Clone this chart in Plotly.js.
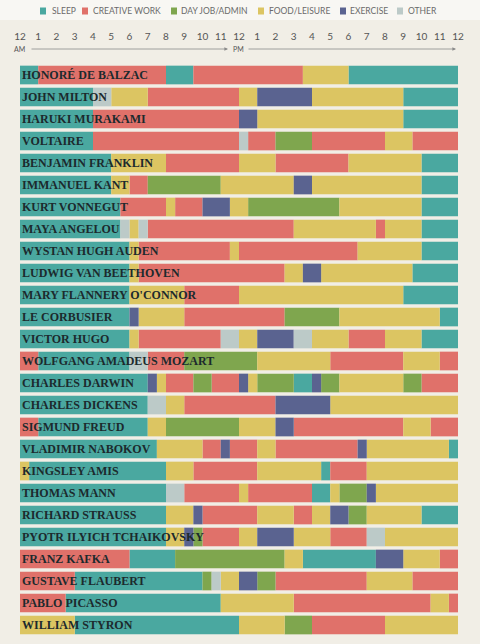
<!DOCTYPE html>
<html>
<head>
<meta charset="utf-8">
<script src="https://cdn.plot.ly/plotly-3.0.1.min.js"></script>
<style>
  html, body { margin: 0; padding: 0; background: #f1eee6; }
  #chart { width: 480px; height: 644px; }
</style>
</head>
<body>
<div id="chart"></div>
<script>
// ---- DATA ----
// Activity codes: S sleep, C creative work, D day job/admin, F food/leisure, E exercise, O other
// Each routine: activity code followed by the hour at which that activity ends.
const activityCodes = ["S", "C", "D", "F", "E", "O"];
const activityNames = ["SLEEP", "CREATIVE WORK", "DAY JOB/ADMIN", "FOOD/LEISURE", "EXERCISE", "OTHER"];

const people = [
  "HONORÉ DE BALZAC", "JOHN MILTON", "HARUKI MURAKAMI", "VOLTAIRE", "BENJAMIN FRANKLIN",
  "IMMANUEL KANT", "KURT VONNEGUT", "MAYA ANGELOU", "WYSTAN HUGH AUDEN", "LUDWIG VAN BEETHOVEN",
  "MARY FLANNERY O'CONNOR", "LE CORBUSIER", "VICTOR HUGO", "WOLFGANG AMADEUS MOZART", "CHARLES DARWIN",
  "CHARLES DICKENS", "SIGMUND FREUD", "VLADIMIR NABOKOV", "KINGSLEY AMIS", "THOMAS MANN",
  "RICHARD STRAUSS", "PYOTR ILYICH TCHAIKOVSKY", "FRANZ KAFKA", "GUSTAVE FLAUBERT", "PABLO PICASSO",
  "WILLIAM STYRON"
];

const balzac      = ["S",1,"C",8,"S",9.5,"C",15.5,"F",18,"S",24];
const milton      = ["S",4,"O",5,"F",7,"C",12,"F",13,"E",16,"F",21,"S",24];
const murakami    = ["S",4,"C",12,"E",13,"F",21,"S",24];
const voltaire    = ["S",4,"C",12,"O",12.5,"C",14,"D",16,"C",20,"F",21.5,"C",24];
const franklin    = ["S",5,"F",8,"C",12,"F",14,"C",18,"F",22,"S",24];
const kant        = ["S",5,"F",6,"C",7,"D",11,"F",15,"E",16,"F",22,"S",24];
const vonnegut    = ["S",5.5,"C",8,"F",8.5,"C",10,"E",11.5,"F",12.5,"D",17.5,"F",22,"S",24];
const angelou     = ["S",5.5,"O",6,"F",6.5,"O",7,"C",15,"F",19.5,"C",20,"F",22,"S",24];
const auden       = ["S",6,"F",6.5,"C",11.5,"F",12,"C",18.5,"F",22,"S",24];
const beethoven   = ["S",6,"F",6.5,"C",14.5,"F",15.5,"E",16.5,"F",21.5,"S",24];
const oconnor     = ["S",6,"F",9,"C",12,"F",21,"S",24];
const corbusier   = ["S",6,"E",6.5,"F",9,"C",14.5,"D",17.5,"F",23,"S",24];
const hugo        = ["S",6,"F",6.5,"C",11,"O",12,"F",13,"E",15,"O",16,"F",18,"C",20,"F",22,"S",24];
const mozart      = ["C",1,"S",6,"O",7,"C",9,"D",13,"F",17,"C",21,"F",23,"C",24];
const darwin      = ["S",7,"E",7.5,"F",8,"C",9.5,"D",10.5,"C",12,"E",12.5,"F",13,"D",15,"S",16,"E",16.5,"D",17.5,"F",21,"D",22,"C",24];
const dickens     = ["S",7,"O",8,"F",9,"C",14,"E",17,"F",24];
const freud       = ["C",1,"S",7,"F",8,"D",12,"F",14,"E",15,"C",21,"F",22.5,"C",24];
const nabokov     = ["S",7.5,"F",10,"C",11,"E",11.5,"C",13,"F",14,"C",18.5,"E",19,"F",23.5,"S",24];
const amis        = ["F",0.5,"S",8,"F",9.5,"C",13,"F",16.5,"S",17,"C",19,"F",24];
const mann        = ["S",8,"O",9,"C",12,"F",12.5,"C",16,"S",17,"F",17.5,"D",19,"E",19.5,"F",24];
const strauss     = ["S",8,"F",9.5,"E",10,"C",13,"F",15,"C",16,"F",17,"E",18,"D",19,"F",22,"S",24];
const tchaikovsky = ["S",8,"F",9,"E",9.5,"D",10,"C",12,"F",13,"E",15,"F",17,"C",19,"O",20,"F",24];
const kafka       = ["C",6,"S",8.5,"D",14.5,"F",15.5,"S",19.5,"E",21,"F",23,"C",24];
const flaubert    = ["C",3,"S",10,"D",10.5,"O",11,"F",12,"E",13,"D",14,"C",19,"F",21.5,"C",24];
const picasso     = ["C",2.5,"S",11,"F",15,"C",22.5,"F",23.5,"C",24];
const styron      = ["F",3,"S",12,"F",14.5,"D",16,"C",20,"F",24];

const routines = [balzac, milton, murakami, voltaire, franklin, kant, vonnegut, angelou, auden, beethoven,
  oconnor, corbusier, hugo, mozart, darwin, dickens, freud, nabokov, amis, mann,
  strauss, tchaikovsky, kafka, flaubert, picasso, styron];

const tickHours = [0,1,2,3,4,5,6,7,8,9,10,11,12,13,14,15,16,17,18,19,20,21,22,23,24];
const tickLabels = ["12","1","2","3","4","5","6","7","8","9","10","11","12","1","2","3","4","5","6","7","8","9","10","11","12"];

// ---- STYLE ----
const colors = { S: "#4aa8a0", C: "#e0716a", D: "#7fa64e", F: "#dcc562", E: "#5a6390", O: "#bccac8" };

// ---- BUILD TRACES ----
const traces = activityCodes.map((code, ci) => {
  const y = [], x = [], base = [];
  routines.forEach((r, pi) => {
    let start = 0;
    for (let i = 0; i < r.length; i += 2) {
      const end = r[i + 1];
      if (r[i] === code) { y.push(people[pi]); x.push(end - start); base.push(start); }
      start = end;
    }
  });
  return {
    type: "bar", orientation: "h", name: activityNames[ci],
    y: y, x: x, base: base, width: 0.85,
    marker: { color: colors[code], line: { width: 0 } },
    hoverinfo: "skip", showlegend: false
  };
});

// ---- LAYOUT ----
const W = 480, H = 644, ML = 20, MR = 22, MT = 64, MB = 8;
const plotW = W - ML - MR, plotH = H - MT - MB;
const px = p => (p - ML) / plotW;          // pixel x -> paper x
const py = p => (H - MB - p) / plotH;      // pixel y -> paper y

const annotations = [];
const shapes = [];

// light header band behind legend
shapes.push({ type: "rect", xref: "paper", yref: "paper", x0: px(0), x1: px(W), y0: py(20), y1: py(0),
  fillcolor: "#f8f7f3", line: { width: 0 }, layer: "below" });

// custom legend
const legendSquareX = [40, 82, 171, 258, 340, 397];
const legendTextX = [50, 91, 179, 267, 348, 406];
activityCodes.forEach((code, i) => {
  shapes.push({ type: "rect", xref: "paper", yref: "paper",
    x0: px(legendSquareX[i]), x1: px(legendSquareX[i] + 6), y0: py(14.5), y1: py(7.5),
    fillcolor: colors[code], line: { width: 0 } });
  annotations.push({ xref: "paper", yref: "paper", x: px(legendTextX[i]), y: py(11.5),
    xanchor: "left", yanchor: "middle", showarrow: false, text: activityNames[i],
    font: { family: "Lato", size: 8.5, color: "#6a6a6a" } });
});

// AM / PM and arrows
annotations.push({ xref: "paper", yref: "paper", x: px(19), y: py(48.5), xanchor: "center", yanchor: "middle",
  showarrow: false, text: "AM", font: { family: "Lato", size: 7, color: "#555" } });
annotations.push({ xref: "paper", yref: "paper", x: px(238), y: py(48.5), xanchor: "center", yanchor: "middle",
  showarrow: false, text: "PM", font: { family: "Lato", size: 7, color: "#555" } });
[[30, 228], [247, 456]].forEach(([a, b]) => {
  annotations.push({ xref: "paper", yref: "paper", x: px(b), y: py(49), axref: "pixel", ayref: "pixel",
    ax: -(b - a), ay: 0, text: "", showarrow: true, arrowhead: 2, arrowsize: 0.9, arrowwidth: 0.8,
    arrowcolor: "#8a8a8a", standoff: 0 });
});

// name labels inside bars
people.forEach(name => {
  annotations.push({ xref: "x", yref: "y", x: 0, y: name, xanchor: "left", yanchor: "middle", xshift: 0,
    showarrow: false, text: name, font: { family: "Liberation Serif", size: 12, color: "#1c2a2d", weight: "bold" } });
});

const layout = {
  width: W, height: H,
  margin: { l: ML, r: MR, t: MT, b: MB, pad: 0 },
  paper_bgcolor: "#f1eee6", plot_bgcolor: "rgba(0,0,0,0)",
  barmode: "overlay", bargap: 0.15,
  showlegend: false, hovermode: false,
  font: { family: "Lato", color: "#555" },
  xaxis: {
    range: [0, 24], side: "top", tickmode: "array", tickvals: tickHours, ticktext: tickLabels,
    showgrid: false, zeroline: false, showline: false, ticks: "", ticklabelstandoff: 21,
    tickfont: { family: "Lato", size: 10, color: "#555" }, fixedrange: true
  },
  yaxis: {
    type: "category", categoryorder: "array", categoryarray: people, range: [25.5, -0.5],
    showgrid: false, zeroline: false, showline: false, showticklabels: false, ticks: "", fixedrange: true
  },
  shapes: shapes,
  annotations: annotations
};

Plotly.newPlot("chart", traces, layout, { staticPlot: true, displayModeBar: false });
</script>
</body>
</html>
